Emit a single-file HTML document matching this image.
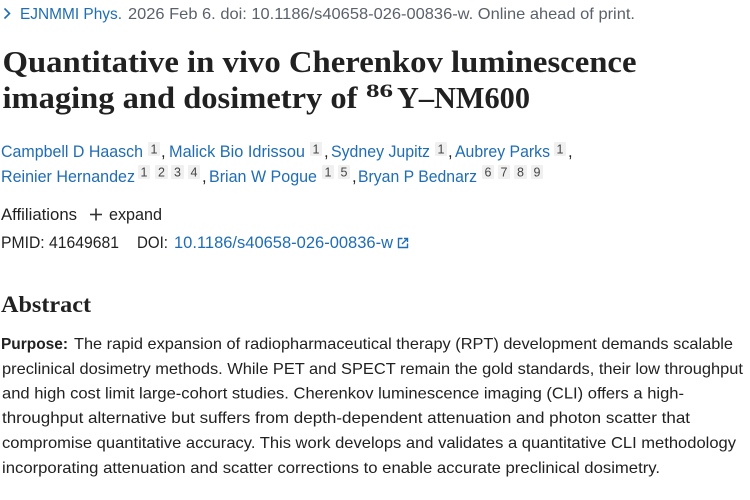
<!DOCTYPE html>
<html>
<head>
<meta charset="utf-8">
<style>
  html,body{margin:0;padding:0;background:#fff;}
  svg{display:block;}
  .sans{font-family:"Liberation Sans",Arial,sans-serif;}
  .serif{font-family:"Liberation Serif","Times New Roman",serif;}
  .link{fill:#1f6db4;}
  .grey{fill:#5b616b;}
  .dark{fill:#212121;}
  .box{fill:#f0f0f0;}
  .num{font-family:"Liberation Sans",Arial,sans-serif;font-size:12.5px;fill:#444;text-anchor:middle;}
</style>
</head>
<body>
<svg width="750" height="500" viewBox="0 0 750 500" xmlns="http://www.w3.org/2000/svg">
  <!-- journal line -->
  <polyline points="4.5,8.5 9.5,13.5 4.5,18.5" fill="none" stroke="#1f6db4" stroke-width="1.6"/>
  <text class="sans link" x="20" y="19" font-size="16" textLength="102" lengthAdjust="spacingAndGlyphs">EJNMMI Phys.</text>
  <text class="sans grey" x="128" y="19" font-size="16" textLength="507" lengthAdjust="spacingAndGlyphs">2026 Feb 6. doi: 10.1186/s40658-026-00836-w. Online ahead of print.</text>

  <!-- title -->
  <text class="serif dark" x="2.5" y="72" font-size="31" font-weight="bold" textLength="634" lengthAdjust="spacingAndGlyphs">Quantitative in vivo Cherenkov luminescence</text>
  <text class="serif dark" x="2.5" y="108" font-size="31" font-weight="bold" textLength="355" lengthAdjust="spacingAndGlyphs">imaging and dosimetry of</text>
  <text class="serif dark" x="366" y="97" font-size="19" font-weight="bold" textLength="27" lengthAdjust="spacingAndGlyphs">86</text>
  <text class="serif dark" x="397" y="108" font-size="31" font-weight="bold" textLength="133" lengthAdjust="spacingAndGlyphs">Y–NM600</text>

  <!-- authors line 1 -->
  <g class="sans" font-size="16.5">
    <text class="link" x="1" y="157" textLength="142" lengthAdjust="spacingAndGlyphs">Campbell D Haasch</text>
    <rect class="box" x="148" y="142" width="12" height="14" rx="1"/><text class="num" x="154" y="153.5">1</text>
    <text class="dark" x="161" y="157">,</text>
    <text class="link" x="169" y="157" textLength="136" lengthAdjust="spacingAndGlyphs">Malick Bio Idrissou</text>
    <rect class="box" x="310" y="142" width="12" height="14" rx="1"/><text class="num" x="316" y="153.5">1</text>
    <text class="dark" x="324" y="157">,</text>
    <text class="link" x="331" y="157" textLength="99" lengthAdjust="spacingAndGlyphs">Sydney Jupitz</text>
    <rect class="box" x="435" y="142" width="12" height="14" rx="1"/><text class="num" x="441" y="153.5">1</text>
    <text class="dark" x="448" y="157">,</text>
    <text class="link" x="455" y="157" textLength="95" lengthAdjust="spacingAndGlyphs">Aubrey Parks</text>
    <rect class="box" x="554" y="142" width="12" height="14" rx="1"/><text class="num" x="560" y="153.5">1</text>
    <text class="dark" x="568" y="157">,</text>

    <!-- authors line 2 -->
    <text class="link" x="1" y="182" textLength="134" lengthAdjust="spacingAndGlyphs">Reinier Hernandez</text>
    <rect class="box" x="138" y="165" width="12" height="14" rx="1"/><text class="num" x="144" y="176.5">1</text>
    <rect class="box" x="155" y="165" width="13" height="14" rx="1"/><text class="num" x="161.5" y="176.5">2</text>
    <rect class="box" x="171" y="165" width="13" height="14" rx="1"/><text class="num" x="177.5" y="176.5">3</text>
    <rect class="box" x="188" y="165" width="12" height="14" rx="1"/><text class="num" x="194" y="176.5">4</text>
    <text class="dark" x="202" y="182">,</text>
    <text class="link" x="209" y="182" textLength="108" lengthAdjust="spacingAndGlyphs">Brian W Pogue</text>
    <rect class="box" x="322" y="165" width="12" height="14" rx="1"/><text class="num" x="328" y="176.5">1</text>
    <rect class="box" x="338" y="165" width="12" height="14" rx="1"/><text class="num" x="344" y="176.5">5</text>
    <text class="dark" x="352" y="182">,</text>
    <text class="link" x="358" y="182" textLength="119" lengthAdjust="spacingAndGlyphs">Bryan P Bednarz</text>
    <rect class="box" x="482" y="165" width="12" height="14" rx="1"/><text class="num" x="488" y="176.5">6</text>
    <rect class="box" x="498" y="165" width="12" height="14" rx="1"/><text class="num" x="504" y="176.5">7</text>
    <rect class="box" x="514" y="165" width="13" height="14" rx="1"/><text class="num" x="520.5" y="176.5">8</text>
    <rect class="box" x="531" y="165" width="12" height="14" rx="1"/><text class="num" x="537" y="176.5">9</text>

    <!-- affiliations -->
    <text class="dark" x="1" y="220" textLength="76" lengthAdjust="spacingAndGlyphs">Affiliations</text>
    <line x1="90" y1="214.5" x2="102" y2="214.5" stroke="#333" stroke-width="1.6"/>
    <line x1="96" y1="208.5" x2="96" y2="220.5" stroke="#333" stroke-width="1.6"/>
    <text class="dark" x="109" y="220" textLength="53" lengthAdjust="spacingAndGlyphs">expand</text>

    <!-- PMID / DOI -->
    <text class="dark" x="1" y="248" textLength="118" lengthAdjust="spacingAndGlyphs">PMID: 41649681</text>
    <text class="dark" x="137" y="248" textLength="31" lengthAdjust="spacingAndGlyphs">DOI:</text>
    <text class="link" x="174" y="248" textLength="219" lengthAdjust="spacingAndGlyphs">10.1186/s40658-026-00836-w</text>
  </g>
  <!-- external link icon -->
  <g fill="none" stroke="#1f6db4" stroke-width="1.4">
    <path d="M402.5,238.5 H398.5 V247.5 H407.5 V243.5"/>
    <path d="M402,244 L407.5,238.5 M404,238.5 H407.5 V242"/>
  </g>

  <!-- Abstract heading -->
  <text class="serif dark" x="1" y="312" font-size="23" font-weight="bold" textLength="90" lengthAdjust="spacingAndGlyphs">Abstract</text>

  <!-- Abstract paragraph -->
  <g class="sans dark" font-size="16">
    <text x="1" y="349" font-weight="bold" textLength="67" lengthAdjust="spacingAndGlyphs">Purpose:</text>
    <text x="74" y="349" textLength="659" lengthAdjust="spacingAndGlyphs">The rapid expansion of radiopharmaceutical therapy (RPT) development demands scalable</text>
    <text x="2" y="374" textLength="741" lengthAdjust="spacingAndGlyphs">preclinical dosimetry methods. While PET and SPECT remain the gold standards, their low throughput</text>
    <text x="2" y="398.5" textLength="682" lengthAdjust="spacingAndGlyphs">and high cost limit large-cohort studies. Cherenkov luminescence imaging (CLI) offers a high-</text>
    <text x="2" y="423" textLength="688" lengthAdjust="spacingAndGlyphs">throughput alternative but suffers from depth-dependent attenuation and photon scatter that</text>
    <text x="2" y="448" textLength="734" lengthAdjust="spacingAndGlyphs">compromise quantitative accuracy. This work develops and validates a quantitative CLI methodology</text>
    <text x="2" y="473" textLength="658" lengthAdjust="spacingAndGlyphs">incorporating attenuation and scatter corrections to enable accurate preclinical dosimetry.</text>
  </g>
</svg>
</body>
</html>
